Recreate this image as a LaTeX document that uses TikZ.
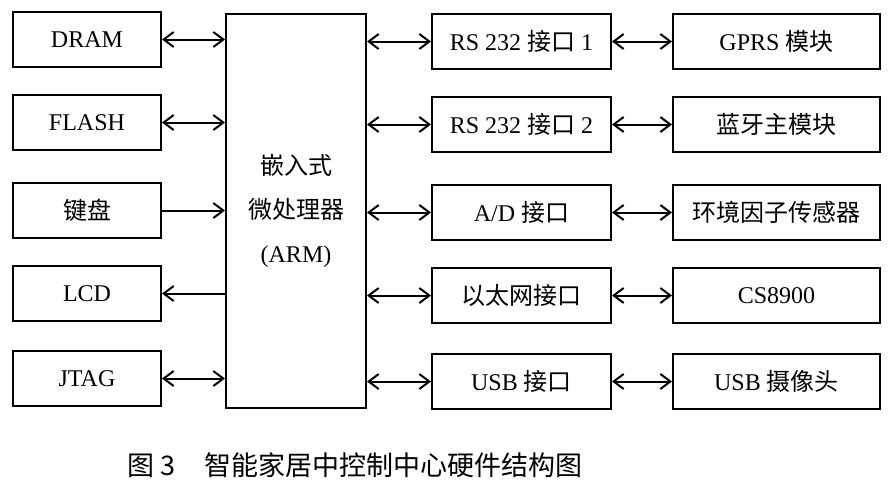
\documentclass[tikz,border=0pt]{standalone}
\usepackage{fontspec}
\setmainfont{Liberation Serif}
\newfontfamily\cjk{Noto Sans CJK SC}
\usetikzlibrary{arrows.meta, positioning}
\newcommand{\zh}[1]{{\cjk #1}}

\begin{document}
\begin{tikzpicture}[
  x=1pt, y=-1pt,
  box/.style={rectangle, draw, line width=2pt, minimum height=55pt,
              inner sep=0pt, text centered, font=\fontsize{24}{28}\selectfont},
  lbox/.style={box, minimum width=148pt},
  ibox/.style={box, minimum width=179pt},
  dbox/.style={box, minimum width=207pt},
  cpu/.style={box, minimum width=140pt, minimum height=394pt, align=center,
              font=\fontsize{24}{44}\selectfont},
  arr/.style={{Straight Barb[length=10pt,width=15pt]}-{Straight Barb[length=10pt,width=15pt]},
              line width=2pt},
  one/.style={-{Straight Barb[length=10pt,width=15pt]}, line width=2pt},
]
  \useasboundingbox (0,0) rectangle (891,498);

  % left column
  \node[lbox] (dram)  at (87,39.5)  {DRAM};
  \node[lbox] (flash) at (87,122.5) {FLASH};
  \node[lbox] (kbd)   at (87,210.5) {\zh{键盘}};
  \node[lbox] (lcd)   at (87,293.5) {LCD};
  \node[lbox] (jtag)  at (87,378.5) {JTAG};

  % processor
  \node[cpu] (arm) at (296,211) {\zh{嵌入式}\\\zh{微处理器}\\(ARM)};

  % interfaces
  \node[ibox] (rs1) at (521.5,41.5)  {RS 232 \zh{接口} 1};
  \node[ibox] (rs2) at (521.5,124.5) {RS 232 \zh{接口} 2};
  \node[ibox] (ad)  at (521.5,212.5) {A/D \zh{接口}};
  \node[ibox] (eth) at (521.5,295.5) {\zh{以太网接口}};
  \node[ibox] (usb) at (521.5,381.5) {USB \zh{接口}};

  % devices
  \node[dbox, right=60pt of rs1] (gprs)   {GPRS \zh{模块}};
  \node[dbox, right=60pt of rs2] (bt)     {\zh{蓝牙主模块}};
  \node[dbox, right=60pt of ad]  (sensor) {\zh{环境因子传感器}};
  \node[dbox, right=60pt of eth] (cs)     {CS8900};
  \node[dbox, right=60pt of usb] (cam)    {USB \zh{摄像头}};

  \node[font=\cjk\fontsize{27}{30}\selectfont] (cap) at (355,465)
    {图 3\hspace{1.1em}智能家居中控制中心硬件结构图};

  \draw[arr] (dram.east)  -- (dram.east -| arm.west);
  \draw[arr] (flash.east) -- (flash.east -| arm.west);
  \draw[one] (kbd.east)   -- (kbd.east -| arm.west);
  \draw[one] (lcd.east -| arm.west) -- (lcd.east);
  \draw[arr] (jtag.east)  -- (jtag.east -| arm.west);

  \foreach \i/\d in {rs1/gprs, rs2/bt, ad/sensor, eth/cs, usb/cam} {
    \draw[arr] (\i.west -| arm.east) -- (\i.west);
    \draw[arr] (\i) -- (\d);
  }
\end{tikzpicture}
\end{document}
